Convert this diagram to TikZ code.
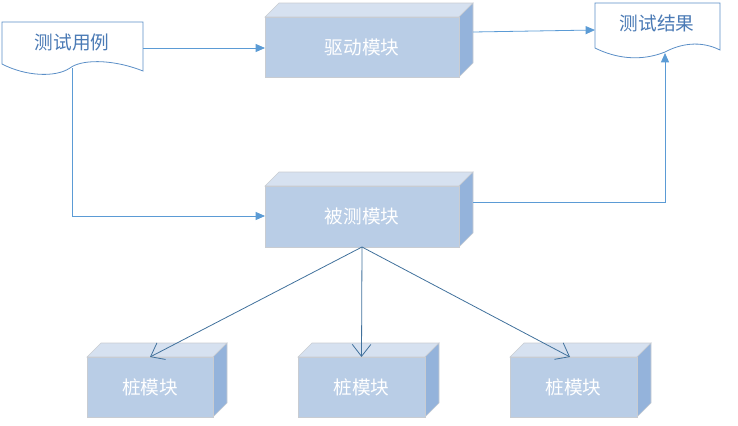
\documentclass[tikz,border=0pt]{standalone}
\usepackage{fontspec}
\setmainfont{Noto Sans CJK SC}
\usetikzlibrary{arrows.meta}
\definecolor{front}{HTML}{B9CDE6}
\definecolor{topc}{HTML}{D6E1F0}
\definecolor{side}{HTML}{94B3DB}
\definecolor{edge}{HTML}{C8CCD2}
\definecolor{docl}{HTML}{5B8FC7}
\definecolor{txt}{HTML}{4A7AB5}
\definecolor{lnk}{HTML}{5B9BD5}
\definecolor{dk}{HTML}{41719C}
\tikzset{
 cube/.style={},
 ln/.style={draw=lnk,line width=0.6pt},
 fa/.style={ln,-{Triangle[length=7pt,width=6pt]}},
 oa/.style={draw=dk,line width=0.6pt,-{Straight Barb[length=9pt,width=14pt]}},
 lbl/.style={font=\fontsize{14}{16}\selectfont},
}
\newcommand\mycube[6]{% x1 y1 x2 y2 name text
 \fill[topc,draw=edge] (#1,#2) -- (#1+14,#2-14) -- (#3+14,#2-14) -- (#3,#2) -- cycle;
 \fill[side,draw=edge] (#3,#2) -- (#3+14,#2-14) -- (#3+14,#4-14) -- (#3,#4) -- cycle;
 \fill[front,draw=edge] (#1,#2) rectangle (#3,#4);
 \node[lbl,text=white,inner sep=0] (#5) at ({(#1+#3)/2},{(#2+#4)/2}) {#6};
 \coordinate (#5-n) at ({(#1+#3)/2},#2);
}
\begin{document}
\begin{tikzpicture}[x=0.75pt,y=-0.75pt]
\useasboundingbox (0,0) rectangle (738,425);
\mycube{265}{17}{459}{77}{drv}{驱动模块}
\mycube{265}{186}{459}{247}{ut}{被测模块}
\mycube{87}{357}{213}{417}{s1}{桩模块}
\mycube{298}{357}{425}{417}{s2}{桩模块}
\mycube{510}{357}{637}{417}{s3}{桩模块}
% documents
\path[fill=white,draw=docl,line width=0.6pt] (2,22) -- (143,22) -- (143,71) .. controls (110,58) and (80,60) .. (70,68) .. controls (55,78) and (25,76) .. (2,64) -- cycle;
\node[lbl,text=txt] (tc) at (72,42) {测试用例};
\path[fill=white,draw=docl,line width=0.6pt] (595,3) -- (720,3) -- (720,50) .. controls (700,40) and (680,44) .. (665,52) .. controls (640,62) and (615,58) .. (595,48) -- cycle;
\node[lbl,text=txt] (tr) at (657,23) {测试结果};
\coordinate (tcr) at (143,48);
\coordinate (tcb) at (72,68);
\coordinate (trb) at (665,53);
\coordinate (trl) at (595,30);
\draw[fa] (tcr) -- (265,48);
\draw[fa] (tcb) |- (265,216);
\draw[fa] (473,32) -- (trl);
\draw[fa] (473,202) -| (trb);
\coordinate (hub) at (362,247);
\draw[oa] (hub) -- (150,357);
\draw[oa] (hub) -- (s2-n);
\draw[oa] (hub) -- (570,357);
\end{tikzpicture}
\end{document}
